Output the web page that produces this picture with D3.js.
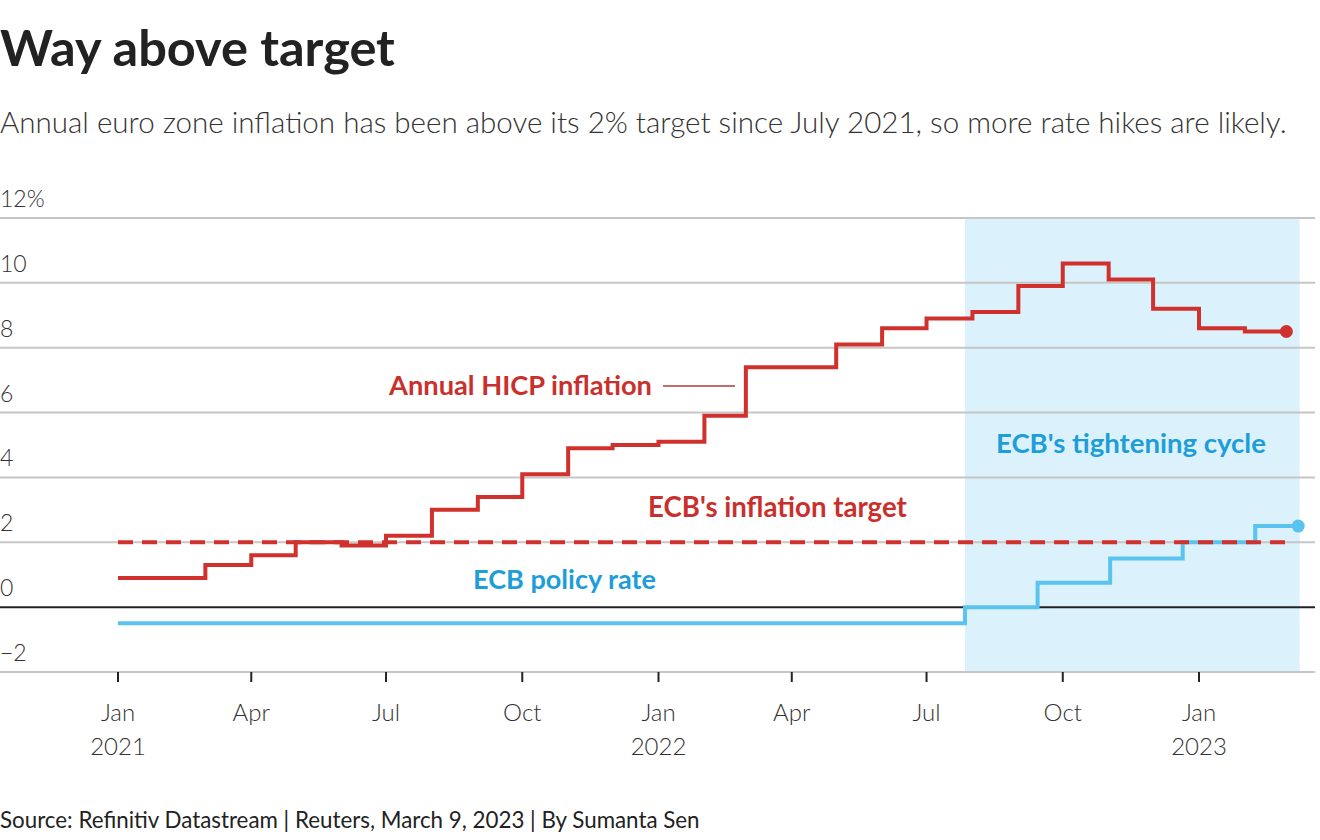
<!DOCTYPE html>
<html>
<head>
  <meta charset="utf-8">
  <script src="https://cdn.jsdelivr.net/npm/d3@7"></script>
  <style>
    body { margin: 0; background: #fff; }
    svg text { font-family: "Lato", "Open Sans", sans-serif; }
  </style>
</head>
<body>
<script>
  // --- data ---
  var hicpMonths = ["2021-01-01","2021-02-01","2021-03-01","2021-04-01","2021-05-01","2021-06-01",
                    "2021-07-01","2021-08-01","2021-09-01","2021-10-01","2021-11-01","2021-12-01",
                    "2022-01-01","2022-02-01","2022-03-01","2022-04-01","2022-05-01","2022-06-01",
                    "2022-07-01","2022-08-01","2022-09-01","2022-10-01","2022-11-01","2022-12-01",
                    "2023-01-01","2023-02-01"];
  var hicpValues = [0.9, 0.9, 1.3, 1.6, 2.0, 1.9, 2.2, 3.0, 3.4, 4.1, 4.9, 5.0,
                    5.1, 5.9, 7.4, 7.4, 8.1, 8.6, 8.9, 9.1, 9.9, 10.6, 10.1, 9.2,
                    8.6, 8.5];
  var hicpEnd = "2023-03-01";

  var rateDates = ["2021-01-01","2022-07-27","2022-09-14","2022-11-02","2022-12-21","2023-02-08"];
  var rateValues = [-0.5, 0, 0.75, 1.5, 2.0, 2.5];
  var rateEnd = "2023-03-09";

  var targetValue = 2;
  var targetSpan = ["2021-01-01","2023-03-01"];
  var cycleSpan = ["2022-07-27","2023-03-10"];

  var yTicks = [-2, 0, 2, 4, 6, 8, 10, 12];
  var xTickDates = ["2021-01-01","2021-04-01","2021-07-01","2021-10-01","2022-01-01","2022-04-01",
                    "2022-07-01","2022-10-01","2023-01-01"];

  var red = "#d0312d", blue = "#5ac4ef", blueText = "#1d9ed9", shade = "#dbf1fb";

  var parse = d3.timeParse("%Y-%m-%d");
  var W = 1320, H = 840;

  var svg = d3.select("body").append("svg")
      .attr("width", W).attr("height", H);

  var x = d3.scaleTime()
      .domain([parse("2021-01-01"), parse("2023-01-01")])
      .range([118, 1199]);
  var y = d3.scaleLinear().domain([-2, 12]).range([672, 218]);

  // scale a text's font size so it spans a given width
  function fit(t, width) {
    var w = t.node().getComputedTextLength();
    var fs = parseFloat(t.style("font-size"));
    t.style("font-size", (fs * width / w) + "px");
  }

  // titles
  var title = svg.append("text").attr("x", 0).attr("y", 66)
      .style("font-size", "44px").style("font-weight", 700).style("fill", "#222")
      .text("Way above target");
  fit(title, 395);
  var sub = svg.append("text").attr("x", 0).attr("y", 133)
      .style("font-size", "26px").style("font-weight", 300).style("fill", "#333")
      .text("Annual euro zone inflation has been above its 2% target since July 2021, so more rate hikes are likely.");
  fit(sub, 1287);

  // tightening cycle shade
  svg.append("rect")
      .attr("x", x(parse(cycleSpan[0])))
      .attr("width", x(parse(cycleSpan[1])) - x(parse(cycleSpan[0])))
      .attr("y", y(12)).attr("height", y(-2) - y(12))
      .style("fill", shade);

  // y gridlines + labels
  var grid = svg.append("g").selectAll("g").data(yTicks).enter().append("g");
  grid.append("line")
      .attr("x1", 0).attr("x2", 1315)
      .attr("y1", function(d) { return y(d); })
      .attr("y2", function(d) { return y(d); })
      .style("stroke", function(d) { return d === 0 ? "#222" : "#c6c6c6"; })
      .style("stroke-width", 2);
  grid.append("text")
      .attr("x", 0).attr("y", function(d) { return y(d) - 11; })
      .style("font-size", "23px").style("font-weight", 300).style("fill", "#333")
      .text(function(d) { return d === 12 ? "12%" : (d < 0 ? "\u2212" + (-d) : d); });

  // x ticks
  var xt = svg.append("g").selectAll("g").data(xTickDates).enter().append("g")
      .attr("transform", function(d) { return "translate(" + x(parse(d)) + ",0)"; });
  xt.append("line").attr("y1", 672).attr("y2", 682)
      .style("stroke", "#222").style("stroke-width", 2);
  xt.append("text").attr("y", 721).style("text-anchor", "middle")
      .style("font-size", "24px").style("font-weight", 300).style("fill", "#333")
      .text(function(d) { return d3.timeFormat("%b")(parse(d)); });
  xt.filter(function(d) { return d.slice(5) === "01-01"; })
      .append("text").attr("y", 755).style("text-anchor", "middle")
      .style("font-size", "24px").style("font-weight", 300).style("fill", "#333")
      .text(function(d) { return d.slice(0, 4); });

  var step = d3.line()
      .x(function(d) { return x(d[0]); })
      .y(function(d) { return y(d[1]); })
      .curve(d3.curveStepAfter);

  // policy rate
  var ratePts = rateDates.map(function(d, i) { return [parse(d), rateValues[i]]; });
  ratePts.push([parse(rateEnd), rateValues[rateValues.length - 1]]);
  svg.append("path").datum(ratePts).attr("d", step)
      .style("fill", "none").style("stroke", blue).style("stroke-width", 4);
  svg.append("circle")
      .attr("cx", x(parse(rateEnd))).attr("cy", y(rateValues[rateValues.length - 1]))
      .attr("r", 6.5).style("fill", blue);

  // inflation target
  svg.append("line")
      .attr("x1", x(parse(targetSpan[0]))).attr("x2", x(parse(targetSpan[1])))
      .attr("y1", y(targetValue)).attr("y2", y(targetValue))
      .style("stroke", red).style("stroke-width", 4)
      .style("stroke-dasharray", "15,9");

  // HICP
  var hicpPts = hicpMonths.map(function(d, i) { return [parse(d), hicpValues[i]]; });
  hicpPts.push([parse(hicpEnd), hicpValues[hicpValues.length - 1]]);
  svg.append("path").datum(hicpPts).attr("d", step)
      .style("fill", "none").style("stroke", red).style("stroke-width", 4);
  svg.append("circle")
      .attr("cx", x(parse(hicpEnd))).attr("cy", y(hicpValues[hicpValues.length - 1]))
      .attr("r", 6.5).style("fill", red);

  // annotations
  function label(txt, x0, yb, width, color) {
    var t = svg.append("text").attr("x", x0).attr("y", yb)
        .style("font-size", "23px").style("font-weight", 700).style("fill", color)
        .text(txt);
    fit(t, width);
    return t;
  }
  label("Annual HICP inflation", 389, 395, 263, "#c9302c");
  svg.append("line").attr("x1", 663).attr("x2", 735).attr("y1", 386).attr("y2", 386)
      .style("stroke", "#b43a36").style("stroke-width", 1.5);
  label("ECB's inflation target", 648, 517, 259, "#c9302c");
  label("ECB policy rate", 473, 589, 183, blueText);
  label("ECB's tightening cycle", 996, 453, 270, blueText);

  // source
  var src = svg.append("text").attr("x", 0).attr("y", 828)
      .style("font-size", "21px").style("font-weight", 400).style("fill", "#222")
      .text("Source: Refinitiv Datastream | Reuters, March 9, 2023 | By Sumanta Sen");
  fit(src, 700);
</script>
</body>
</html>
